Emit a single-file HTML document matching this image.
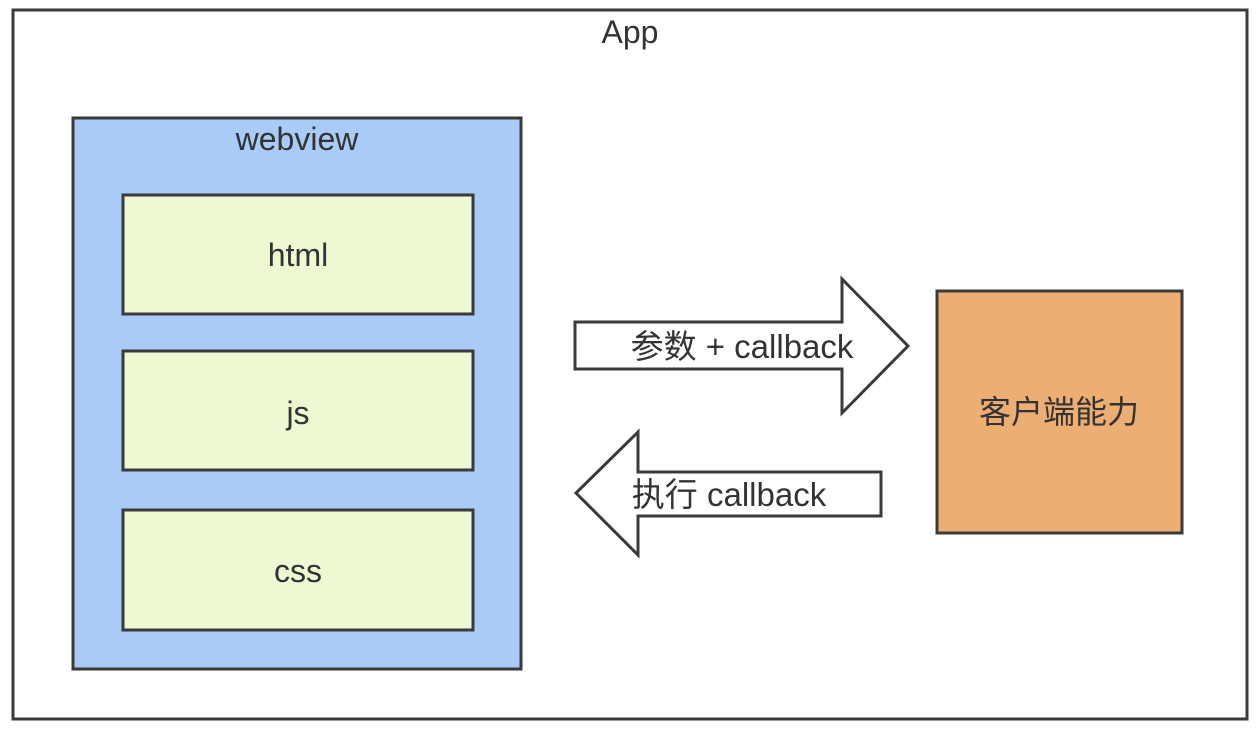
<!DOCTYPE html>
<html><head><meta charset="utf-8"><style>
body{margin:0;width:1260px;height:734px;background:#fff;overflow:hidden;font-family:"Liberation Sans","Noto Sans CJK SC",sans-serif;}
</style></head><body>
<svg width="1260" height="734" xmlns="http://www.w3.org/2000/svg" style="position:absolute;left:0;top:0">
<rect x="13" y="10" width="1234" height="709" fill="#fff" stroke="#3a3a3a" stroke-width="3"/>
<text x="630" y="43" font-size="32" fill="#333" text-anchor="middle" font-family="Liberation Sans,sans-serif">App</text>
<rect x="73" y="118" width="448" height="551" fill="#a9cbf7" stroke="#3a3a3a" stroke-width="3"/>
<text x="297" y="150" font-size="32" fill="#333" text-anchor="middle" font-family="Liberation Sans,sans-serif">webview</text>
<rect x="123" y="195" width="350" height="119" fill="#ecf9d3" stroke="#3a3a3a" stroke-width="3"/>
<text x="298" y="266" font-size="32" fill="#333" text-anchor="middle" font-family="Liberation Sans,sans-serif">html</text>
<rect x="123" y="351" width="350" height="119" fill="#ecf9d3" stroke="#3a3a3a" stroke-width="3"/>
<text x="298" y="424" font-size="32" fill="#333" text-anchor="middle" font-family="Liberation Sans,sans-serif">js</text>
<rect x="123" y="510" width="350" height="120" fill="#ecf9d3" stroke="#3a3a3a" stroke-width="3"/>
<text x="298" y="582" font-size="32" fill="#333" text-anchor="middle" font-family="Liberation Sans,sans-serif">css</text>
<polygon points="575,322 842,322 842,279 908,346 842,413 842,369 575,369" fill="#fff" stroke="#3a3a3a" stroke-width="3"/>
<text x="742" y="358" font-size="33" fill="#333" text-anchor="middle" font-family="Liberation Sans,Noto Sans CJK SC,sans-serif">参数 + callback</text>
<polygon points="881,472 638,472 638,432 576,493 638,555 638,516 881,516" fill="#fff" stroke="#3a3a3a" stroke-width="3"/>
<text x="729" y="506" font-size="33" fill="#333" text-anchor="middle" font-family="Liberation Sans,Noto Sans CJK SC,sans-serif">执行 callback</text>
<rect x="937" y="291" width="245" height="242" fill="#edae73" stroke="#3a3a3a" stroke-width="3"/>
<text x="1059" y="423" font-size="32" fill="#333" text-anchor="middle" font-family="Noto Sans CJK SC,sans-serif">客户端能力</text>
</svg>
</body></html>
